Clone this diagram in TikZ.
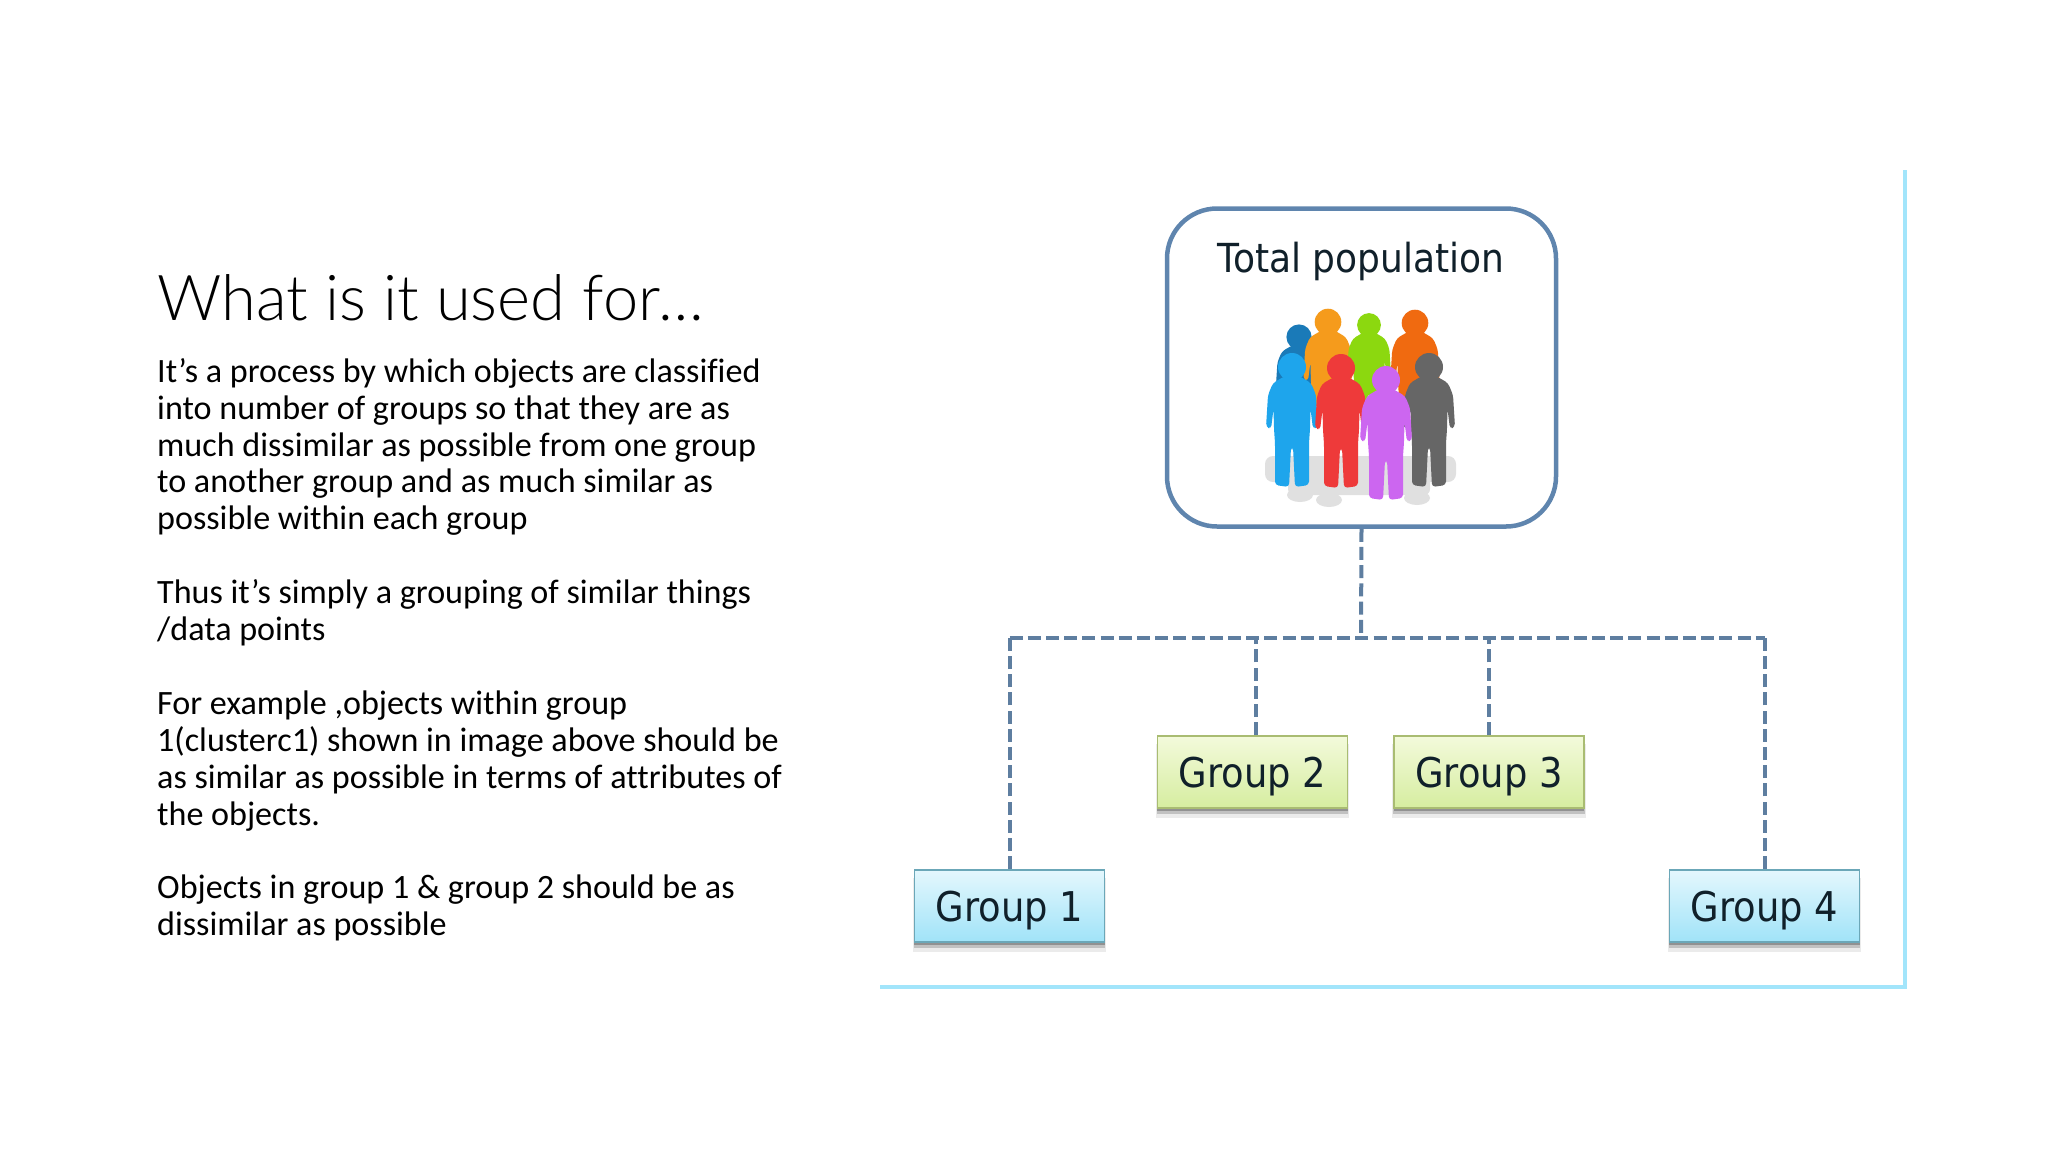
\documentclass[tikz,border=0pt]{standalone}
\usepackage{fontspec}
\setmainfont[Ligatures=NoCommon]{Carlito}
\newfontfamily\figfont{DejaVu Sans Condensed}
\newfontfamily\titlefont{Lato Light}
\usetikzlibrary{shadows}
\definecolor{framecyan}{HTML}{A2E5FB}
\definecolor{connector}{HTML}{5E7EA0}
\definecolor{totalblue}{HTML}{5F85AE}
\definecolor{shadowgray}{HTML}{E0E0E0}
\definecolor{figtext}{HTML}{10202A}
\definecolor{bluetop}{HTML}{E4F7FD}
\definecolor{bluebot}{HTML}{A0E3F8}
\definecolor{greentop}{HTML}{F3FADB}
\definecolor{greenbot}{HTML}{D6EDA0}
\definecolor{blueedge}{HTML}{6BA7B8}
\definecolor{greenedge}{HTML}{A9BC72}
\definecolor{pdarkblue}{HTML}{1A7AB8}
\definecolor{pamber}{HTML}{F59B1C}
\definecolor{pgreen}{HTML}{8CD80F}
\definecolor{porange}{HTML}{F06A10}
\definecolor{pblue}{HTML}{1EA5EC}
\definecolor{pred}{HTML}{EE3A3A}
\definecolor{ppurple}{HTML}{CC66F0}
\definecolor{pgray}{HTML}{666666}
\tikzset{
  frameline/.style={draw=framecyan,line width=4.5pt},
  dashline/.style={draw=connector,line width=4pt,dash pattern=on 13pt off 5.2pt},
  groupbox/.style={minimum width=190pt,minimum height=72pt,inner sep=0pt,line width=1.6pt,
    font=\figfont\fontsize{41}{43}\selectfont,text=figtext,text height=34pt,text depth=4pt,
    general shadow={shadow xshift=0pt,shadow yshift=-9pt,shadow scale=1.02,fill=black,opacity=.08},
    general shadow={shadow xshift=0pt,shadow yshift=-6pt,shadow scale=1.01,fill=black,opacity=.18},
    general shadow={shadow xshift=0pt,shadow yshift=-3pt,shadow scale=1.005,fill=black,opacity=.25}},
  bluebox/.style={groupbox,draw=blueedge,top color=bluetop,bottom color=bluebot},
  greenbox/.style={groupbox,draw=greenedge,top color=greentop,bottom color=greenbot},
  totalbox/.style={draw=totalblue,line width=4.5pt,rounded corners=50pt,fill=white,
    minimum width=389pt,minimum height=318pt,inner sep=0pt},
  bodytext/.style={anchor=north west,align=left,inner sep=0pt,font=\fontsize{34.1}{36.9}\selectfont},
  titletext/.style={anchor=base west,inner sep=0pt,font=\titlefont\fontsize{63.2}{70}\selectfont},
  shadowblob/.style={fill=shadowgray},
}
\newcommand{\person}[4]{% x, y of head centre, colour, scale
  \begin{scope}[shift={(#1,#2)},scale=#4]
    \fill[#3] (0,0) circle (14);
    \fill[#3,rounded corners=3.5pt]
      (-7,9) -- (-19,16) -- (-24,28) -- (-26,60) -- (-21,62) -- (-18.5,42)
      -- (-18,62) -- (-17,76) -- (-17,118) -- (-3,120) -- (-1,80)
      -- (1,80) -- (3,120) -- (17,118) -- (17,76) -- (18,62) -- (18.5,42)
      -- (21,62) -- (26,60) -- (24,28) -- (19,16) -- (7,9) -- cycle;
  \end{scope}}
\begin{document}
\begin{tikzpicture}[x=1pt,y=-1pt]
\useasboundingbox (0,0) rectangle (2048,1152);
% text
\node[titletext] (title) at (157,320) {What is it used for…};
\node[bodytext] (body) at (157,358) {It’s a process by which objects are classified\\
into number of groups so that they are as\\
much dissimilar as possible from one group\\
to another group and as much similar as\\
possible within each group\\[36.9pt]
Thus it’s simply a grouping of similar things\\
/data points\\[36.9pt]
For example ,objects within group\\
1(clusterc1) shown in image above should be\\
as similar as possible in terms of attributes of\\
the objects.\\[36.9pt]
Objects in group 1 \& group 2 should be as\\
dissimilar as possible};
% frame
\coordinate (frameTop) at (1905,170);
\coordinate (frameCorner) at (1905,987);
\coordinate (frameLeft) at (880,987);
\draw[frameline] (frameTop) -- (frameCorner) -- (frameLeft);
% nodes
\node[totalbox] (total) at (1361.5,367.5) {};
\node[font=\figfont\fontsize{40}{42}\selectfont,text=figtext] (totaltext) at (1361,261) {Total population};
\node[bluebox] (g1) at (1009.5,906) {Group 1};
\node[greenbox] (g2) at (1252.5,772) {Group 2};
\node[greenbox] (g3) at (1489,772) {Group 3};
\node[bluebox] (g4) at (1764.5,906) {Group 4};
% connectors
\coordinate (bus) at (1361,638);
\draw[dashline] (total.south) -- (bus);
\draw[dashline] (g1.north |- bus) -- (g4.north |- bus);
\draw[dashline] (g1.north) -- (g1.north |- bus);
\draw[dashline] (g4.north) -- (g4.north |- bus);
\draw[dashline] ([xshift=3pt]g2.north) -- ([xshift=3pt]g2.north |- bus);
\draw[dashline] (g3.north) -- (g3.north |- bus);
% people
\fill[shadowblob,rounded corners=8pt] (1265,456) rectangle (1456,482);
\fill[shadowblob,rounded corners=6pt] (1288,470) rectangle (1430,495);
\fill[shadowblob] (1300,495) ellipse (13 and 7);
\fill[shadowblob] (1329,500) ellipse (13 and 7);
\fill[shadowblob] (1417,498) ellipse (13 and 7);
\begin{scope}
  \clip (1270,300) rectangle (1450,405);
  \person{1299}{337}{pdarkblue}{0.9}
  \person{1328}{322}{pamber}{0.95}
  \person{1369}{325}{pgreen}{0.85}
  \person{1415}{323}{porange}{0.95}
\end{scope}
\person{1292}{367}{pblue}{1}
\person{1429}{367}{pgray}{1}
\person{1341}{368}{pred}{1}
\person{1386}{380}{ppurple}{1}
\end{tikzpicture}
\end{document}
